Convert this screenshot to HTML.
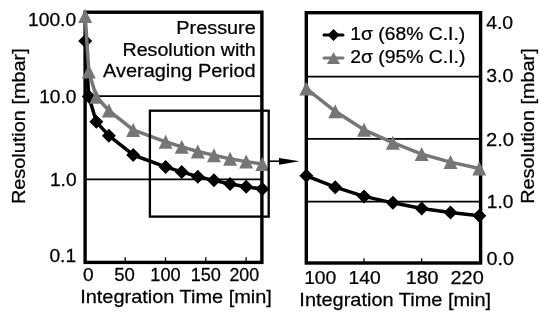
<!DOCTYPE html><html><head><meta charset="utf-8"><style>html,body{margin:0;padding:0;background:#fff;width:550px;height:318px;overflow:hidden}svg{display:block}</style></head><body><svg width="550" height="318" viewBox="0 0 550 318" font-family="Liberation Sans, Arial, sans-serif" font-size="19.0">
<style>text{stroke:#000;stroke-width:0.25px}</style>
<rect width="550" height="318" fill="#fff"/>
<g stroke="#000" stroke-width="1.7">
<line x1="85" y1="96.2" x2="262" y2="96.2"/>
<line x1="85" y1="179.3" x2="262" y2="179.3"/>
</g>
<g stroke="#000" stroke-width="1.3">
<line x1="125.20" y1="257.3" x2="125.20" y2="262"/>
<line x1="165.50" y1="257.3" x2="165.50" y2="262"/>
<line x1="205.80" y1="257.3" x2="205.80" y2="262"/>
<line x1="246.10" y1="257.3" x2="246.10" y2="262"/>
</g>
<rect x="85.1" y="12.2" width="176.8" height="250.2" fill="none" stroke="#000" stroke-width="3.4"/>
<path d="M85.20 41.02 L88.80 96.49 L96.30 121.86 L108.90 135.66 L133.20 154.99 L165.60 166.89 L181.72 171.94 L197.84 176.65 L213.96 180.34 L230.08 183.94 L246.20 186.71 L262.32 189.08" fill="none" stroke="#000" stroke-width="3.5" stroke-linejoin="round" stroke-linecap="round"/><g fill="#000"><path d="M85.20 34.02L92.20 41.02L85.20 48.02L78.20 41.02Z"/><path d="M88.80 89.49L95.80 96.49L88.80 103.49L81.80 96.49Z"/><path d="M96.30 114.86L103.30 121.86L96.30 128.86L89.30 121.86Z"/><path d="M108.90 128.66L115.90 135.66L108.90 142.66L101.90 135.66Z"/><path d="M133.20 147.99L140.20 154.99L133.20 161.99L126.20 154.99Z"/><path d="M165.60 159.89L172.60 166.89L165.60 173.89L158.60 166.89Z"/><path d="M181.72 164.94L188.72 171.94L181.72 178.94L174.72 171.94Z"/><path d="M197.84 169.65L204.84 176.65L197.84 183.65L190.84 176.65Z"/><path d="M213.96 173.34L220.96 180.34L213.96 187.34L206.96 180.34Z"/><path d="M230.08 176.94L237.08 183.94L230.08 190.94L223.08 183.94Z"/><path d="M246.20 179.71L253.20 186.71L246.20 193.71L239.20 186.71Z"/><path d="M262.32 182.08L269.32 189.08L262.32 196.08L255.32 189.08Z"/></g>
<path d="M85.20 15.92 L88.80 71.39 L96.30 96.75 L108.90 110.55 L133.20 129.88 L165.60 141.79 L181.72 146.83 L197.84 151.55 L213.96 155.23 L230.08 158.84 L246.20 161.61 L262.32 163.97" fill="none" stroke="#787575" stroke-width="3.5" stroke-linejoin="round" stroke-linecap="round"/><g fill="#787575"><path d="M85.20 8.92L92.20 22.92L78.20 22.92Z"/><path d="M88.80 64.39L95.80 78.39L81.80 78.39Z"/><path d="M96.30 89.75L103.30 103.75L89.30 103.75Z"/><path d="M108.90 103.55L115.90 117.55L101.90 117.55Z"/><path d="M133.20 122.88L140.20 136.88L126.20 136.88Z"/><path d="M165.60 134.79L172.60 148.79L158.60 148.79Z"/><path d="M181.72 139.83L188.72 153.83L174.72 153.83Z"/><path d="M197.84 144.55L204.84 158.55L190.84 158.55Z"/><path d="M213.96 148.23L220.96 162.23L206.96 162.23Z"/><path d="M230.08 151.84L237.08 165.84L223.08 165.84Z"/><path d="M246.20 154.61L253.20 168.61L239.20 168.61Z"/><path d="M262.32 156.97L269.32 170.97L255.32 170.97Z"/></g>
<rect x="149.9" y="110.7" width="118.8" height="105.9" fill="none" stroke="#000" stroke-width="2.3"/>
<line x1="269" y1="161.2" x2="282" y2="161.2" stroke="#000" stroke-width="1.6"/>
<path d="M279 157.9 L299.6 161.3 L279 164.7 Z" fill="#000"/>
<text transform="translate(176.33,33.8) scale(1.0454,1)">Pressure</text>
<text transform="translate(122.45,55.5) scale(1.0352,1)">Resolution with</text>
<text transform="translate(103.00,77.0) scale(1.0503,1)">Averaging Period</text>
<text transform="translate(28.03,25.7) scale(1.0120,1)">100.0</text>
<text transform="translate(39.14,102.7) scale(1.0099,1)">10.0</text>
<text transform="translate(49.93,185.9) scale(1.0122,1)">1.0</text>
<text transform="translate(49.40,262.0) scale(1.0099,1)">0.1</text>
<text transform="translate(83.10,281.2) scale(1.0000,1)">0</text>
<text transform="translate(114.17,281.2) scale(0.9772,1)">50</text>
<text transform="translate(150.31,281.2) scale(0.9546,1)">100</text>
<text transform="translate(190.71,281.2) scale(0.9546,1)">150</text>
<text transform="translate(229.40,281.2) scale(0.9388,1)">200</text>
<text transform="translate(80.16,303.1) scale(1.0503,1)">Integration Time [min]</text>
<text transform="translate(24.5,204.07) rotate(-90) scale(1.0475,1)">Resolution [mbar]</text>
<g stroke="#000" stroke-width="1.7">
<line x1="306" y1="76.6" x2="481" y2="76.6"/>
<line x1="306" y1="138.8" x2="481" y2="138.8"/>
<line x1="306" y1="201.6" x2="481" y2="201.6"/>
</g>
<g stroke="#000" stroke-width="1.3">
<line x1="364.04" y1="258.3" x2="364.04" y2="262"/>
<line x1="421.68" y1="258.3" x2="421.68" y2="262"/>
</g>
<rect x="306.3" y="12.7" width="174.3" height="250.3" fill="none" stroke="#000" stroke-width="3.4"/>
<path d="M306.40 175.80 L335.22 187.13 L364.04 196.39 L392.86 202.84 L421.68 208.54 L450.50 212.54 L479.32 215.74" fill="none" stroke="#000" stroke-width="3.5" stroke-linejoin="round" stroke-linecap="round"/><g fill="#000"><path d="M306.40 168.80L313.40 175.80L306.40 182.80L299.40 175.80Z"/><path d="M335.22 180.13L342.22 187.13L335.22 194.13L328.22 187.13Z"/><path d="M364.04 189.39L371.04 196.39L364.04 203.39L357.04 196.39Z"/><path d="M392.86 195.84L399.86 202.84L392.86 209.84L385.86 202.84Z"/><path d="M421.68 201.54L428.68 208.54L421.68 215.54L414.68 208.54Z"/><path d="M450.50 205.54L457.50 212.54L450.50 219.54L443.50 212.54Z"/><path d="M479.32 208.74L486.32 215.74L479.32 222.74L472.32 215.74Z"/></g>
<path d="M306.40 88.60 L335.22 111.26 L364.04 129.79 L392.86 142.68 L421.68 154.08 L450.50 162.09 L479.32 168.47" fill="none" stroke="#787575" stroke-width="3.5" stroke-linejoin="round" stroke-linecap="round"/><g fill="#787575"><path d="M306.40 81.60L313.40 95.60L299.40 95.60Z"/><path d="M335.22 104.26L342.22 118.26L328.22 118.26Z"/><path d="M364.04 122.79L371.04 136.79L357.04 136.79Z"/><path d="M392.86 135.68L399.86 149.68L385.86 149.68Z"/><path d="M421.68 147.08L428.68 161.08L414.68 161.08Z"/><path d="M450.50 155.09L457.50 169.09L443.50 169.09Z"/><path d="M479.32 161.47L486.32 175.47L472.32 175.47Z"/></g>
<line x1="324" y1="35" x2="343" y2="35" stroke="#000" stroke-width="3" stroke-linecap="round"/>
<path d="M333.50 29.00L339.50 35.00L333.50 41.00L327.50 35.00Z"/>
<line x1="324" y1="58" x2="343" y2="58" stroke="#787575" stroke-width="3" stroke-linecap="round"/>
<g fill="#787575"><path d="M333.50 52.00L340.00 64.00L327.00 64.00Z"/></g>
<text transform="translate(350.33,40.4) scale(1.0167,1)">1σ (68% C.I.)</text>
<text transform="translate(350.14,63.0) scale(1.0193,1)">2σ (95% C.I.)</text>
<text transform="translate(486.14,28.7) scale(1.0235,1)">4.0</text>
<text transform="translate(486.29,82.3) scale(1.0257,1)">3.0</text>
<text transform="translate(486.00,145.5) scale(1.0640,1)">2.0</text>
<text transform="translate(486.74,207.8) scale(1.0082,1)">1.0</text>
<text transform="translate(486.48,264.8) scale(1.0376,1)">0.0</text>
<text transform="translate(304.13,283.9) scale(1.0151,1)">100</text>
<text transform="translate(348.53,283.9) scale(1.0151,1)">140</text>
<text transform="translate(405.71,283.9) scale(1.0353,1)">180</text>
<text transform="translate(450.51,283.9) scale(1.0479,1)">220</text>
<text transform="translate(299.36,305.6) scale(1.0503,1)">Integration Time [min]</text>
<text transform="translate(533.7,203.87) rotate(-90) scale(1.0455,1)">Resolution [mbar]</text>
</svg></body></html>
